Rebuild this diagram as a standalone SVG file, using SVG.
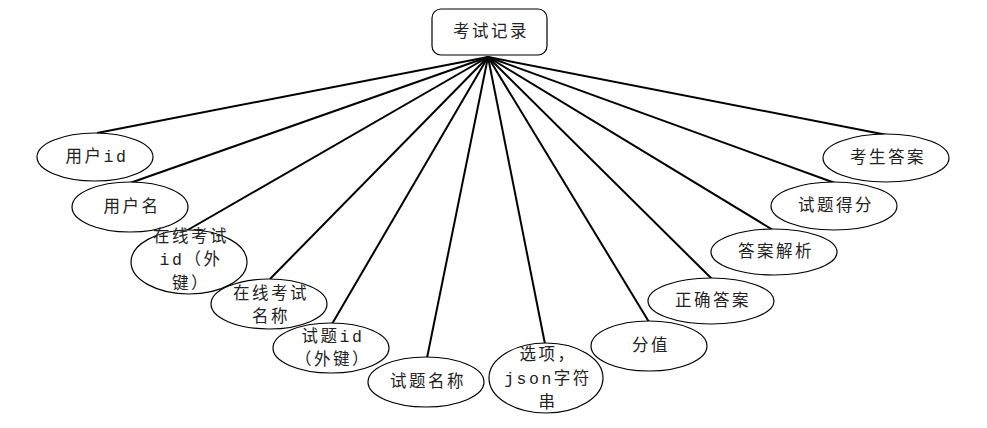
<svg xmlns="http://www.w3.org/2000/svg" width="987" height="428" viewBox="0 0 987 428">
<style>
.e{fill:#fff;stroke:#000;stroke-width:1.2}
.c line{stroke:#000;stroke-width:2}
text{font-family:"Liberation Mono","Noto Sans CJK SC",monospace;font-size:16.5px;letter-spacing:2.5px;fill:#222;text-anchor:middle;dominant-baseline:central}
</style>
<rect width="987" height="428" fill="#fff"/>
<g class="c" id="connectors">
<line x1="488" y1="57" x2="97" y2="133"/>
<line x1="488" y1="57" x2="130" y2="183"/>
<line x1="488" y1="57" x2="186" y2="231"/>
<line x1="488" y1="57" x2="270" y2="279"/>
<line x1="488" y1="57" x2="332" y2="324"/>
<line x1="488" y1="57" x2="427" y2="358"/>
<line x1="488" y1="57" x2="545" y2="344"/>
<line x1="488" y1="57" x2="649" y2="322"/>
<line x1="488" y1="57" x2="712" y2="279"/>
<line x1="488" y1="57" x2="773" y2="230"/>
<line x1="488" y1="57" x2="835" y2="183"/>
<line x1="488" y1="57" x2="887" y2="135"/>
</g>
<g id="root"><rect x="432" y="9" width="115" height="46" rx="9" class="e"/><text x="491" y="32">考试记录</text></g>
<g id="n1"><ellipse cx="95" cy="157" rx="58" ry="24" class="e"/><text x="97" y="157">用户id</text></g>
<g id="n2"><ellipse cx="130" cy="207" rx="58" ry="25" class="e"/><text x="132" y="207">用户名</text></g>
<g id="n3"><ellipse cx="189" cy="262" rx="58" ry="32" class="e"/><text x="191" y="237">在线考试</text><text x="191" y="260">id（外</text><text x="191" y="284">键）</text></g>
<g id="n4"><ellipse cx="269" cy="304" rx="58" ry="25" class="e"/><text x="271" y="294">在线考试</text><text x="271" y="317">名称</text></g>
<g id="n5"><ellipse cx="331" cy="348" rx="58" ry="25" class="e"/><text x="333" y="337">试题id</text><text x="333" y="360">（外键）</text></g>
<g id="n6"><ellipse cx="426" cy="382" rx="58" ry="25" class="e"/><text x="428" y="382">试题名称</text></g>
<g id="n7"><ellipse cx="546" cy="378" rx="57" ry="35" class="e"/><text x="548" y="355">选项，</text><text x="548" y="379">json字符</text><text x="548" y="403">串</text></g>
<g id="n8"><ellipse cx="649" cy="346" rx="58" ry="25" class="e"/><text x="651" y="346">分值</text></g>
<g id="n9"><ellipse cx="711" cy="301" rx="63" ry="23" class="e"/><text x="713" y="301">正确答案</text></g>
<g id="n10"><ellipse cx="774" cy="252" rx="63" ry="23" class="e"/><text x="776" y="252">答案解析</text></g>
<g id="n11"><ellipse cx="834" cy="206" rx="63" ry="24" class="e"/><text x="836" y="206">试题得分</text></g>
<g id="n12"><ellipse cx="886" cy="158" rx="63" ry="24" class="e"/><text x="888" y="158">考生答案</text></g>
</svg>
